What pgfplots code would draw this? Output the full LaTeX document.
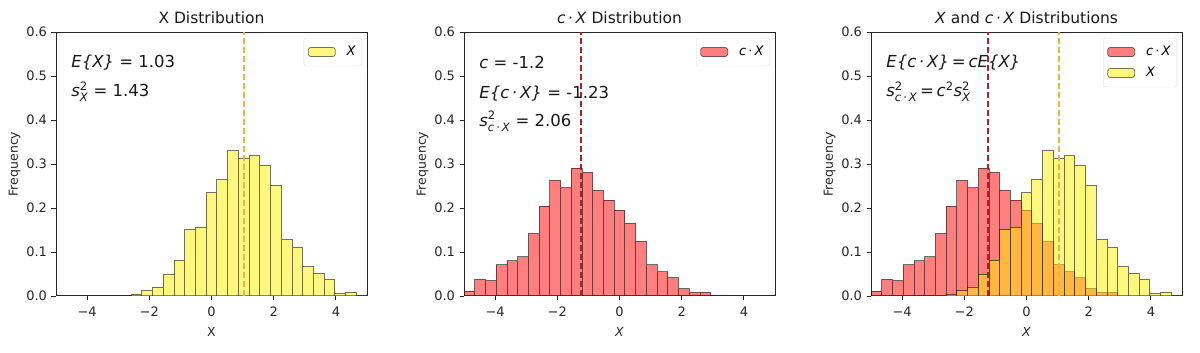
\documentclass[border=0pt]{standalone}
\usepackage{fontspec}
\setmainfont{DejaVu Sans}
\usepackage{amsmath}
\usepackage{pgfplots}
\pgfplotsset{compat=1.18}
\definecolor{meanY}{HTML}{E9B440}
\definecolor{meanR}{HTML}{B0202A}

\pgfplotstableread{
x h
-2.5862 0.003
-2.2414 0.012
-1.8966 0.020
-1.5517 0.049
-1.2069 0.081
-0.8621 0.151
-0.5172 0.157
-0.1724 0.235
0.1724 0.264
0.5172 0.330
0.8621 0.313
1.2069 0.319
1.5517 0.296
1.8966 0.252
2.2414 0.128
2.5862 0.110
2.9310 0.067
3.2759 0.052
3.6207 0.038
3.9655 0.006
4.3103 0.009
4.6552 0.002
5.0000 0.002
}\dataX

\pgfplotstableread{
x h
-5.0000 0.011
-4.6552 0.038
-4.3103 0.035
-3.9655 0.071
-3.6207 0.080
-3.2759 0.089
-2.9310 0.142
-2.5862 0.204
-2.2414 0.263
-1.8966 0.246
-1.5517 0.291
-1.2069 0.281
-0.8621 0.240
-0.5172 0.218
-0.1724 0.195
0.1724 0.165
0.5172 0.124
0.8621 0.071
1.2069 0.055
1.5517 0.042
1.8966 0.017
2.2414 0.008
2.5862 0.008
2.9310 0.008
}\dataCX

\newcommand\tf{\fontsize{13}{15.6}\selectfont}
\newcommand\lf{\fontsize{12.5}{15}\selectfont}
\newcommand\annfont{\fontsize{16.5}{19}\selectfont}
\newcommand\cdotX{\textit{c}\,⋅\,\textit{X}}

\pgfplotsset{
  histax/.style={
    scale only axis, width=311pt, height=264pt,
    xmin=-5, xmax=5, ymin=0, ymax=0.6,
    xtick={-4,-2,0,2,4}, xticklabels={{\tf −4},{\tf −2},{\tf 0},{\tf 2},{\tf 4}},
    ytick={0,0.1,0.2,0.3,0.4,0.5,0.6},
    yticklabels={{\tf 0.0},{\tf 0.1},{\tf 0.2},{\tf 0.3},{\tf 0.4},{\tf 0.5},{\tf 0.6}},
    tick align=outside, tick pos=left,
    major tick length=4.5pt,
    every tick/.style={black!85, line width=0.9pt},
    axis line style={black!85, line width=1pt},
    every tick label/.append style={text=black!85},
    every x tick label/.append style={yshift=-3pt},
    every y tick label/.append style={xshift=-1pt},
    every axis label/.append style={text=black!85},
    every axis title/.append style={font=\fontsize{15.5}{18}\selectfont, text=black!90, yshift=-1pt},
    ylabel={\lf Frequency},
    every axis y label/.append style={yshift=-1pt},
    every axis x label/.append style={yshift=-4pt},
    legend cell align=left,
    every axis legend/.append style={at={(0.984,0.978)}, anchor=north east, draw=black!15,
      rounded corners=2.5pt, fill=white, fill opacity=0.8, text opacity=1,
      inner xsep=4pt, inner ysep=6.5pt,
      row sep=6pt, column sep=9pt},
    clip=true,
  },
  yhist/.style={ybar interval, fill=yellow, fill opacity=0.5, draw=black, draw opacity=0.55, line width=0.8pt,
    legend image code/.code={\draw[fill=yellow, fill opacity=0.5, draw=black, draw opacity=0.55, line width=0.8pt] (0pt,-4.5pt) rectangle (27pt,4.5pt);}},
  rhist/.style={ybar interval, fill=red, fill opacity=0.5, draw=black, draw opacity=0.55, line width=0.8pt,
    legend image code/.code={\draw[fill=red, fill opacity=0.5, draw=black, draw opacity=0.55, line width=0.8pt] (0pt,-4.5pt) rectangle (27pt,4.5pt);}},
  meanline/.style={line width=2pt, dash pattern=on 6pt off 3pt, forget plot},
}

\begin{document}
\begin{tikzpicture}
\path[use as bounding box] (0,0) rectangle (1200pt,353pt);

% Panel 1
\begin{axis}[histax, at={(56pt,57pt)}, anchor=south west,
  title={X Distribution}, xlabel={\lf X}]
\addplot[yhist] table[x=x,y=h] {\dataX};
\addlegendentry{\tf\textit{X}}
\addplot[meanline, meanY] coordinates {(1.03,0) (1.03,0.6)};
\node[anchor=west, font=\annfont, text=black!90] at (axis cs:-4.62,0.530) {\textit{E\{X\}} = 1.03};
\node[anchor=west, font=\annfont, text=black!90] at (axis cs:-4.62,0.464) {$\textit{s}^{\textrm{2}}_{\textit{X}}$ = 1.43};
\end{axis}

% Panel 2
\begin{axis}[histax, at={(464pt,57pt)}, anchor=south west,
  title={\cdotX{} Distribution}, xlabel={\lf\textit{X}}]
\addplot[rhist] table[x=x,y=h] {\dataCX};
\addlegendentry{\tf\cdotX}
\addplot[meanline, meanR] coordinates {(-1.23,0) (-1.23,0.6)};
\node[anchor=west, font=\annfont, text=black!90] at (axis cs:-4.62,0.530) {\textit{c} = -1.2};
\node[anchor=west, font=\annfont, text=black!90] at (axis cs:-4.62,0.460) {\textit{E\{}\cdotX\textit{\}} = -1.23};
\node[anchor=west, font=\annfont, text=black!90] at (axis cs:-4.62,0.397) {$\textit{s}^{\textrm{2}}_{\textit{c}\,\textrm{⋅}\,\textit{X}}$ = 2.06};
\end{axis}

% Panel 3
\begin{axis}[histax, at={(871pt,57pt)}, anchor=south west,
  title={\textit{X} and \cdotX{} Distributions}, xlabel={\lf\textit{X}}]
\addplot[rhist] table[x=x,y=h] {\dataCX};
\addlegendentry{\tf\cdotX}
\addplot[yhist] table[x=x,y=h] {\dataX};
\addlegendentry{\tf\textit{X}}
\addplot[meanline, meanR] coordinates {(-1.23,0) (-1.23,0.6)};
\addplot[meanline, meanY] coordinates {(1.03,0) (1.03,0.6)};
\node[anchor=west, font=\annfont, text=black!90] at (axis cs:-4.62,0.530) {\textit{E\{}\cdotX\textit{\}}\,=\,\textit{cE\{X\}}};
\node[anchor=west, font=\annfont, text=black!90] at (axis cs:-4.62,0.464) {$\textit{s}^{\textrm{2}}_{\textit{c}\,\textrm{⋅}\,\textit{X}}$\,=\,$\textit{c}^{\textrm{2}}\textit{s}^{\textrm{2}}_{\textit{X}}$};
\end{axis}
\end{tikzpicture}
\end{document}
